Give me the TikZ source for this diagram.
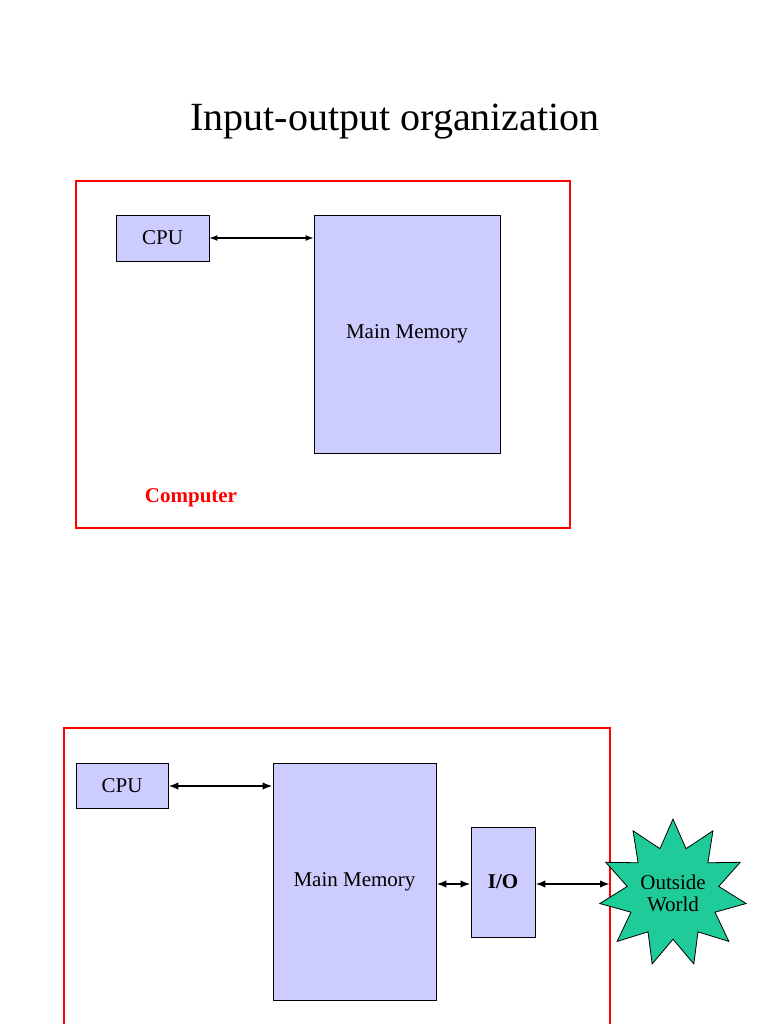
\documentclass[tikz,border=0pt]{standalone}
\usepackage{fontspec}
\setmainfont{Liberation Serif}
\usetikzlibrary{shapes.geometric,arrows.meta}
\definecolor{boxblue}{HTML}{CCCCFF}
\definecolor{starteal}{HTML}{1FCC99}
\tikzset{
  unit/.style={draw, fill=boxblue, line width=0.4pt, font=\fontsize{10.5}{12}\selectfont},
  frame/.style={draw=red, line width=0.8pt},
  link/.style={{Latex[length=4pt]}-{Latex[length=4pt]}, line width=0.6pt},
  thick link/.style={{Latex[length=5pt]}-{Latex[length=5pt]}, line width=1.1pt}
}
\begin{document}
\begin{tikzpicture}[x=0.5pt,y=-0.5pt]
\useasboundingbox (0,0) rectangle (768,1024);
\clip (0,0) rectangle (768,1024);
% title
\node[font=\fontsize{20}{24}\selectfont] (title) at (395,122) {Input-output organization};
% upper computer
\draw[frame] (76,181) rectangle (570,528);
\node[unit, minimum width=46.5pt, minimum height=23pt] (cpu) at (162.5,238) {CPU};
\node[unit, minimum width=93pt, minimum height=119pt] (mem) at (407,334) {Main Memory};
\draw[link] (cpu.east) -- (mem.west |- cpu.east);
\node[text=red, font=\bfseries\fontsize{10.5}{12}\selectfont] (comp) at (191,498) {Computer};
% lower computer
\draw[frame] (64,728) rectangle (610,1040);
\node[unit, minimum width=46pt, minimum height=22.5pt] (cpuB) at (122,786) {CPU};
\node[unit, minimum width=81.5pt, minimum height=118.5pt] (memB) at (354.5,881.5) {Main Memory};
\node[unit, minimum width=32pt, minimum height=55pt, font=\bfseries\fontsize{10.5}{12}\selectfont] (io) at (503,882) {I/O};
\node[star, star points=11, star point ratio=1.6, draw, fill=starteal, minimum size=68pt,
  inner sep=0pt, align=center, font=\fontsize{10.5}{11}\selectfont] (world) at (673,893) {Outside\\World};
\coordinate (edge) at (610,884);
\draw[thick link] (cpuB.east) -- (memB.west |- cpuB.east);
\draw[thick link] (memB.east |- io.west) ++(0,2) coordinate (m) (m) -- (io.west |- m);
\draw[thick link] (io.east |- m) -- (edge |- m);
\end{tikzpicture}
\end{document}
